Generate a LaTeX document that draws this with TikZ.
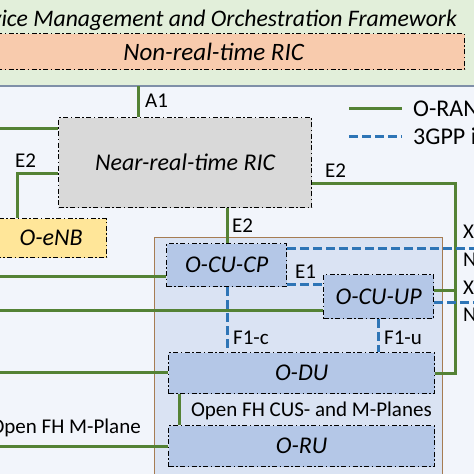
\documentclass[tikz,border=0pt]{standalone}
\usepackage{fontspec}
\setmainfont{Carlito}
\usetikzlibrary{calc}
\definecolor{smogreen}{HTML}{E2EFDA}
\definecolor{nrtorange}{HTML}{F8CBAD}
\definecolor{mainbg}{HTML}{F2F5FB}
\definecolor{sepline}{HTML}{7F8FA8}
\definecolor{ricgrey}{HTML}{D9D9D9}
\definecolor{enbyellow}{HTML}{FFE699}
\definecolor{contfill}{HTML}{DAE3F3}
\definecolor{contborder}{HTML}{A67C52}
\definecolor{boxblue}{HTML}{B4C7E7}
\definecolor{ogreen}{HTML}{548235}
\definecolor{gblue}{HTML}{2E75B6}
\begin{document}
\begin{tikzpicture}[x=1pt,y=-1pt,
  dd/.style={draw=black, line width=1.3pt, dash pattern=on 5pt off 2.5pt on 1.5pt off 2.5pt},
  box/.style={dd, anchor=north west, inner sep=0pt, font=\fontsize{24}{28}\selectfont\itshape},
  bg/.style={anchor=north west, inner sep=0pt, draw=none},
  oran/.style={draw=ogreen, line width=3pt},
  gpp/.style={draw=gblue, line width=3pt, dash pattern=on 9pt off 4pt},
  lbl/.style={font=\fontsize{21}{25}\selectfont, inner sep=0pt},
  leg/.style={font=\fontsize{24}{28}\selectfont, inner sep=0pt, anchor=west}]
\useasboundingbox (0,0) rectangle (474,474);
\clip (0,0) rectangle (474,474);
% backgrounds
\node[bg, fill=smogreen, minimum width=480pt, minimum height=88pt] (smo) at (-3,-2) {};
\node[bg, fill=mainbg, minimum width=480pt, minimum height=392pt] (main) at (-3,86) {};
\draw[sepline, line width=1.2pt] (main.north west) -- (main.north east);
\node[anchor=base east, inner sep=0pt, font=\fontsize{23.7}{28}\selectfont\itshape] (smotxt) at (457,26) {Service Management and Orchestration Framework};
\node[box, fill=nrtorange, minimum width=502pt, minimum height=36pt, font=\fontsize{25}{29}\selectfont\itshape] (nonrt) at (-38,33) {Non-real-time RIC};
\node[bg, fill=contfill, draw=contborder, line width=1pt, minimum width=288pt, minimum height=250pt] (cont) at (154,237) {};
% coordinates
\coordinate (bus) at (455,183);
\coordinate (l1) at (0,128);
\coordinate (l2) at (0,276);
\coordinate (l3) at (0,310);
\coordinate (l4) at (0,372);
\coordinate (l5) at (0,446);
\coordinate (r1) at (474,248);
\coordinate (r2) at (474,302);
% boxes
\node[box, fill=ricgrey, minimum width=253pt, minimum height=90pt] (nrt) at (58,117) {Near-real-time RIC};
\node[box, fill=enbyellow, minimum width=111pt, minimum height=39pt] (oenb) at (-5,218) {O-eNB};
\node[box, fill=boxblue, minimum width=120pt, minimum height=43pt] (cucp) at (166,243) {O-CU-CP};
\node[box, fill=boxblue, minimum width=110pt, minimum height=44pt] (cuup) at (323,274) {O-CU-UP};
\node[box, fill=boxblue, minimum width=266pt, minimum height=41pt] (odu) at (168,352) {O-DU};
\node[box, fill=boxblue, minimum width=266pt, minimum height=41pt] (oru) at (168,425) {O-RU};
% O-RAN interfaces
\draw[oran] ($(nrt.north west)+(80,0)$) coordinate (a1) -- (a1 |- smo.south);
\draw[oran] (l1) -- (l1 -| nrt.west);
\draw[oran] ($(nrt.north west)+(0,56)$) -| ($(oenb.north west)+(22,0)$);
\draw[oran] ($(nrt.north east)+(0,66)$) -- (bus) |- (odu.east);
\draw[oran] ($(cuup.north east)+(0,16)$) coordinate (u1) -- (u1 -| bus);
\draw[oran] ($(cucp.north west)+(61,0)$) coordinate (e2m) -- (e2m |- nrt.south);
\draw[oran] (l2) -- (l2 -| cucp.west);
\draw[oran] (l3) -- (l3 -| cuup.west);
\draw[oran] (l4) -- (l4 -| odu.west);
\draw[oran] (l5) -- (l5 -| oru.west);
\draw[oran] ($(odu.south west)+(11,0)$) coordinate (fh) -- (fh |- oru.north);
% 3GPP interfaces
\draw[gpp] ($(cucp.south east)+(0,-3)$) coordinate (e1) -- (e1 -| cuup.west);
\draw[gpp] ($(cucp.north east)+(0,5)$) coordinate (x2c) -- (x2c -| r1);
\draw[gpp] ($(cuup.north east)+(0,28)$) coordinate (x2u) -- (x2u -| r2);
\draw[gpp] (e2m |- cucp.south) -- (e2m |- odu.north);
\draw[gpp] ($(cuup.south west)+(55,0)$) coordinate (f1u) -- (f1u |- odu.north);
% labels
\node[lbl, anchor=west] (la1) at (145,101) {A1};
\node[lbl, anchor=west] (le2a) at (15,161) {E2};
\node[lbl, anchor=west] (le2b) at (325,171) {E2};
\node[lbl, anchor=west] (le2c) at (232,226) {E2};
\node[lbl, anchor=west] (le1) at (295,272) {E1};
\node[lbl, anchor=west] (lf1c) at (233,338) {F1-c};
\node[lbl, anchor=west] (lf1u) at (384,338) {F1-u};
\node[lbl, anchor=east] (lfh) at (432,411) {Open FH CUS- and M-Planes};
\node[lbl, anchor=east] (lfhm) at (141,428) {Open FH M-Plane};
\node[lbl, anchor=west] (lx2c) at (463,232) {X2-c};
\node[lbl, anchor=west] (lngc) at (463,260) {NG-c};
\node[lbl, anchor=west] (lx2u) at (463,288) {X2-u};
\node[lbl, anchor=west] (lngu) at (463,315) {NG-u};
% legend
\coordinate (g1a) at (349,108); \coordinate (g1b) at (402,108);
\coordinate (g2a) at (349,136); \coordinate (g2b) at (402,136);
\draw[oran] (g1a) -- (g1b);
\draw[gpp] (g2a) -- (g2b);
\node[leg] (lg1) at (413,108) {O-RAN interfaces};
\node[leg] (lg2) at (413,136) {3GPP interfaces};
\end{tikzpicture}
\end{document}
